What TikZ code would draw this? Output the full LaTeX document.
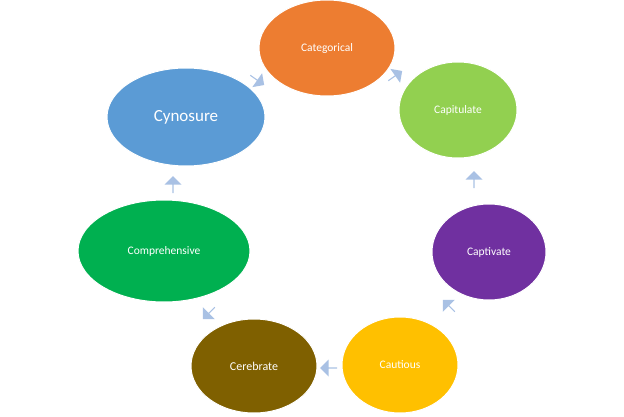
\documentclass[tikz,border=0pt]{standalone}
\usepackage{fontspec}
\setmainfont{Carlito}
\usetikzlibrary{shapes.arrows}
\definecolor{arr}{HTML}{A9C1E4}
\begin{document}
\begin{tikzpicture}[x=1pt,y=-1pt,
  el/.style={ellipse,draw=white,line width=1pt,text=white,font=\fontsize{11}{13}\selectfont,inner sep=0pt},
  ar/.style={single arrow,fill=arr,draw=none,minimum height=17pt,minimum width=17pt,single arrow head extend=3pt,inner sep=0pt}]
\useasboundingbox (0,0) rectangle (624,417);
\tikzset{ellipse/.style={}}
\def\E#1#2#3#4#5#6#7{\fill[#6,draw=white,line width=1pt] (#2,#3) ellipse[x radius=#4,y radius=#5]; \node[text=white,font=#7] (#1) at (#2,#3) {\csname txt#1\endcsname};}
\def\txta{Categorical}\def\txtb{Capitulate}\def\txtc{Captivate}\def\txtd{Cautious}
\def\txte{Cerebrate}\def\txtf{Comprehensive}\def\txtg{Cynosure}
\definecolor{ca}{HTML}{ED7D31}\definecolor{cb}{HTML}{92D050}\definecolor{cc}{HTML}{7030A0}
\definecolor{cd}{HTML}{FFC000}\definecolor{ce}{HTML}{7F6000}\definecolor{cf}{HTML}{00B050}
\definecolor{cg}{HTML}{5B9BD5}
\E{a}{327}{48}{68}{48}{ca}{\fontsize{11.5}{13}\selectfont}
\E{b}{458}{110}{59}{48}{cb}{\fontsize{11.5}{13}\selectfont}
\E{c}{489}{252}{57}{48}{cc}{\fontsize{11.5}{13}\selectfont}
\E{d}{400}{365}{58}{48}{cd}{\fontsize{11.5}{13}\selectfont}
\E{e}{254}{366}{63}{47}{ce}{\fontsize{12}{14}\selectfont}
\E{f}{164}{251}{86}{51}{cf}{\fontsize{11.5}{13}\selectfont}
\E{g}{186}{117}{79}{49}{cg}{\fontsize{17}{20}\selectfont}
\node[ar,rotate=-35] (ag) at (257,80) {};
\node[ar,rotate=-35+70] (aa) at (395,76) {};
\node[ar,rotate=-90+180] (ab) at (474,180) {};
\node[ar,rotate=135] (ac) at (449,306) {};
\node[ar,rotate=180] (ad) at (329,368) {};
\node[ar,rotate=-135+360] (ae) at (209,313) {};
\node[ar,rotate=90] (af) at (173,185) {};
\end{tikzpicture}
\end{document}
